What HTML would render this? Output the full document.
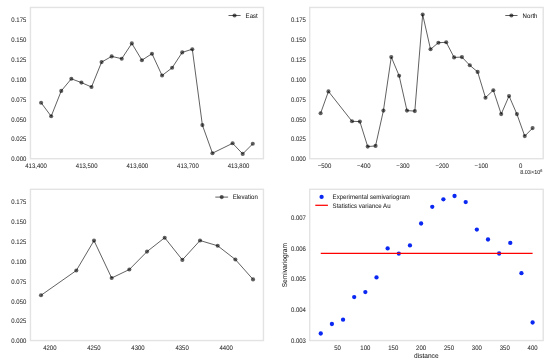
<!DOCTYPE html>
<html><head><meta charset="utf-8"><style>
html,body{margin:0;padding:0;background:#fff;}
svg{display:block;}
text{font-family:"Liberation Sans",Arial,sans-serif;fill:#262626;stroke:#262626;stroke-width:0.5;text-rendering:geometricPrecision;}
</style></head><body>
<svg width="550" height="364" viewBox="0 0 550 364">
<rect width="550" height="364" fill="#fff"/>
<rect x="30.45" y="7.45" width="233.00" height="151.25" fill="none" stroke="#e3e3e3" stroke-width="1.4"/>
<rect x="309.7" y="7.45" width="233.50" height="151.25" fill="none" stroke="#e3e3e3" stroke-width="1.4"/>
<rect x="30.45" y="189.3" width="233.00" height="151.25" fill="none" stroke="#e3e3e3" stroke-width="1.4"/>
<rect x="309.7" y="189.3" width="233.50" height="151.25" fill="none" stroke="#e3e3e3" stroke-width="1.4"/>
<text transform="translate(26.30,161.00) scale(0.1,0.1100)" font-size="60.0" text-anchor="end">0.000</text>
<text transform="translate(26.30,141.00) scale(0.1,0.1100)" font-size="60.0" text-anchor="end">0.025</text>
<text transform="translate(26.30,122.00) scale(0.1,0.1100)" font-size="60.0" text-anchor="end">0.050</text>
<text transform="translate(26.30,102.00) scale(0.1,0.1100)" font-size="60.0" text-anchor="end">0.075</text>
<text transform="translate(26.30,82.00) scale(0.1,0.1100)" font-size="60.0" text-anchor="end">0.100</text>
<text transform="translate(26.30,62.00) scale(0.1,0.1100)" font-size="60.0" text-anchor="end">0.125</text>
<text transform="translate(26.30,42.00) scale(0.1,0.1100)" font-size="60.0" text-anchor="end">0.150</text>
<text transform="translate(26.30,22.00) scale(0.1,0.1100)" font-size="60.0" text-anchor="end">0.175</text>
<text transform="translate(305.90,161.00) scale(0.1,0.1100)" font-size="60.0" text-anchor="end">0.000</text>
<text transform="translate(305.90,141.00) scale(0.1,0.1100)" font-size="60.0" text-anchor="end">0.025</text>
<text transform="translate(305.90,122.00) scale(0.1,0.1100)" font-size="60.0" text-anchor="end">0.050</text>
<text transform="translate(305.90,102.00) scale(0.1,0.1100)" font-size="60.0" text-anchor="end">0.075</text>
<text transform="translate(305.90,82.00) scale(0.1,0.1100)" font-size="60.0" text-anchor="end">0.100</text>
<text transform="translate(305.90,62.00) scale(0.1,0.1100)" font-size="60.0" text-anchor="end">0.125</text>
<text transform="translate(305.90,42.00) scale(0.1,0.1100)" font-size="60.0" text-anchor="end">0.150</text>
<text transform="translate(305.90,22.00) scale(0.1,0.1100)" font-size="60.0" text-anchor="end">0.175</text>
<text transform="translate(26.30,343.00) scale(0.1,0.1100)" font-size="60.0" text-anchor="end">0.000</text>
<text transform="translate(26.30,323.00) scale(0.1,0.1100)" font-size="60.0" text-anchor="end">0.025</text>
<text transform="translate(26.30,304.00) scale(0.1,0.1100)" font-size="60.0" text-anchor="end">0.050</text>
<text transform="translate(26.30,284.00) scale(0.1,0.1100)" font-size="60.0" text-anchor="end">0.075</text>
<text transform="translate(26.30,264.00) scale(0.1,0.1100)" font-size="60.0" text-anchor="end">0.100</text>
<text transform="translate(26.30,244.00) scale(0.1,0.1100)" font-size="60.0" text-anchor="end">0.125</text>
<text transform="translate(26.30,224.00) scale(0.1,0.1100)" font-size="60.0" text-anchor="end">0.150</text>
<text transform="translate(26.30,204.00) scale(0.1,0.1100)" font-size="60.0" text-anchor="end">0.175</text>
<text transform="translate(305.90,343.00) scale(0.1,0.1100)" font-size="60.0" text-anchor="end">0.003</text>
<text transform="translate(305.90,312.00) scale(0.1,0.1100)" font-size="60.0" text-anchor="end">0.004</text>
<text transform="translate(305.90,281.00) scale(0.1,0.1100)" font-size="60.0" text-anchor="end">0.005</text>
<text transform="translate(305.90,251.00) scale(0.1,0.1100)" font-size="60.0" text-anchor="end">0.006</text>
<text transform="translate(305.90,220.00) scale(0.1,0.1100)" font-size="60.0" text-anchor="end">0.007</text>
<text transform="translate(36.10,167.70) scale(0.1,0.1100)" font-size="60.0" text-anchor="middle">413,400</text>
<text transform="translate(86.70,167.70) scale(0.1,0.1100)" font-size="60.0" text-anchor="middle">413,500</text>
<text transform="translate(137.30,167.70) scale(0.1,0.1100)" font-size="60.0" text-anchor="middle">413,600</text>
<text transform="translate(187.90,167.70) scale(0.1,0.1100)" font-size="60.0" text-anchor="middle">413,700</text>
<text transform="translate(238.50,167.70) scale(0.1,0.1100)" font-size="60.0" text-anchor="middle">413,800</text>
<text transform="translate(324.50,167.70) scale(0.1,0.1100)" font-size="60.0" text-anchor="middle">−500</text>
<text transform="translate(363.72,167.70) scale(0.1,0.1100)" font-size="60.0" text-anchor="middle">−400</text>
<text transform="translate(402.94,167.70) scale(0.1,0.1100)" font-size="60.0" text-anchor="middle">−300</text>
<text transform="translate(442.16,167.70) scale(0.1,0.1100)" font-size="60.0" text-anchor="middle">−200</text>
<text transform="translate(481.38,167.70) scale(0.1,0.1100)" font-size="60.0" text-anchor="middle">−100</text>
<text transform="translate(520.60,167.70) scale(0.1,0.1100)" font-size="60.0" text-anchor="middle">0</text>
<text transform="translate(542.40,174.40) scale(0.1,0.1060)" font-size="55.0" text-anchor="end">8.03×10<tspan font-size="38.5" dy="-22">6</tspan></text>
<text transform="translate(49.80,349.60) scale(0.1,0.1100)" font-size="60.0" text-anchor="middle">4200</text>
<text transform="translate(93.90,349.60) scale(0.1,0.1100)" font-size="60.0" text-anchor="middle">4250</text>
<text transform="translate(138.00,349.60) scale(0.1,0.1100)" font-size="60.0" text-anchor="middle">4300</text>
<text transform="translate(182.10,349.60) scale(0.1,0.1100)" font-size="60.0" text-anchor="middle">4350</text>
<text transform="translate(226.20,349.60) scale(0.1,0.1100)" font-size="60.0" text-anchor="middle">4400</text>
<text transform="translate(337.48,349.60) scale(0.1,0.1100)" font-size="60.0" text-anchor="middle">50</text>
<text transform="translate(365.35,349.60) scale(0.1,0.1100)" font-size="60.0" text-anchor="middle">100</text>
<text transform="translate(393.23,349.60) scale(0.1,0.1100)" font-size="60.0" text-anchor="middle">150</text>
<text transform="translate(421.10,349.60) scale(0.1,0.1100)" font-size="60.0" text-anchor="middle">200</text>
<text transform="translate(448.98,349.60) scale(0.1,0.1100)" font-size="60.0" text-anchor="middle">250</text>
<text transform="translate(476.85,349.60) scale(0.1,0.1100)" font-size="60.0" text-anchor="middle">300</text>
<text transform="translate(504.73,349.60) scale(0.1,0.1100)" font-size="60.0" text-anchor="middle">350</text>
<text transform="translate(532.60,349.60) scale(0.1,0.1100)" font-size="60.0" text-anchor="middle">400</text>
<text transform="translate(426.30,357.90) scale(0.1,0.1060)" font-size="66.0" text-anchor="middle">distance</text>
<text transform="translate(286.90,265.15) rotate(-90) scale(0.1,0.1060)" font-size="66.0" text-anchor="middle">Semivariogram</text>
<path d="M41.10,102.70 L51.18,116.30 L61.26,90.90 L71.34,78.80 L81.42,82.60 L91.50,87.00 L101.58,62.10 L111.66,56.40 L121.74,58.70 L131.82,43.40 L141.90,60.20 L151.98,53.70 L162.06,75.50 L172.14,67.80 L182.22,52.40 L192.30,49.20 L202.38,125.10 L212.46,153.20 L232.62,143.30 L242.70,153.90 L252.78,143.80" fill="none" stroke="#000" stroke-opacity="0.62" stroke-width="1.0" stroke-linejoin="round"/>
<circle cx="41.10" cy="102.70" r="2.05" fill="#000" fill-opacity="0.62"/>
<circle cx="51.18" cy="116.30" r="2.05" fill="#000" fill-opacity="0.62"/>
<circle cx="61.26" cy="90.90" r="2.05" fill="#000" fill-opacity="0.62"/>
<circle cx="71.34" cy="78.80" r="2.05" fill="#000" fill-opacity="0.62"/>
<circle cx="81.42" cy="82.60" r="2.05" fill="#000" fill-opacity="0.62"/>
<circle cx="91.50" cy="87.00" r="2.05" fill="#000" fill-opacity="0.62"/>
<circle cx="101.58" cy="62.10" r="2.05" fill="#000" fill-opacity="0.62"/>
<circle cx="111.66" cy="56.40" r="2.05" fill="#000" fill-opacity="0.62"/>
<circle cx="121.74" cy="58.70" r="2.05" fill="#000" fill-opacity="0.62"/>
<circle cx="131.82" cy="43.40" r="2.05" fill="#000" fill-opacity="0.62"/>
<circle cx="141.90" cy="60.20" r="2.05" fill="#000" fill-opacity="0.62"/>
<circle cx="151.98" cy="53.70" r="2.05" fill="#000" fill-opacity="0.62"/>
<circle cx="162.06" cy="75.50" r="2.05" fill="#000" fill-opacity="0.62"/>
<circle cx="172.14" cy="67.80" r="2.05" fill="#000" fill-opacity="0.62"/>
<circle cx="182.22" cy="52.40" r="2.05" fill="#000" fill-opacity="0.62"/>
<circle cx="192.30" cy="49.20" r="2.05" fill="#000" fill-opacity="0.62"/>
<circle cx="202.38" cy="125.10" r="2.05" fill="#000" fill-opacity="0.62"/>
<circle cx="212.46" cy="153.20" r="2.05" fill="#000" fill-opacity="0.62"/>
<circle cx="232.62" cy="143.30" r="2.05" fill="#000" fill-opacity="0.62"/>
<circle cx="242.70" cy="153.90" r="2.05" fill="#000" fill-opacity="0.62"/>
<circle cx="252.78" cy="143.80" r="2.05" fill="#000" fill-opacity="0.62"/>
<path d="M320.60,113.30 L328.45,91.40 L352.01,121.30 L359.86,121.60 L367.71,146.60 L375.56,145.90 L383.42,110.60 L391.27,57.00 L399.12,75.70 L406.97,110.60 L414.82,111.10 L422.68,14.50 L430.53,49.30 L438.38,42.70 L446.23,42.30 L454.08,57.40 L461.94,57.10 L469.79,65.30 L477.64,71.90 L485.49,97.70 L493.34,90.20 L501.20,114.10 L509.05,96.00 L516.90,114.10 L524.75,136.10 L532.60,128.10" fill="none" stroke="#000" stroke-opacity="0.62" stroke-width="1.0" stroke-linejoin="round"/>
<circle cx="320.60" cy="113.30" r="2.05" fill="#000" fill-opacity="0.62"/>
<circle cx="328.45" cy="91.40" r="2.05" fill="#000" fill-opacity="0.62"/>
<circle cx="352.01" cy="121.30" r="2.05" fill="#000" fill-opacity="0.62"/>
<circle cx="359.86" cy="121.60" r="2.05" fill="#000" fill-opacity="0.62"/>
<circle cx="367.71" cy="146.60" r="2.05" fill="#000" fill-opacity="0.62"/>
<circle cx="375.56" cy="145.90" r="2.05" fill="#000" fill-opacity="0.62"/>
<circle cx="383.42" cy="110.60" r="2.05" fill="#000" fill-opacity="0.62"/>
<circle cx="391.27" cy="57.00" r="2.05" fill="#000" fill-opacity="0.62"/>
<circle cx="399.12" cy="75.70" r="2.05" fill="#000" fill-opacity="0.62"/>
<circle cx="406.97" cy="110.60" r="2.05" fill="#000" fill-opacity="0.62"/>
<circle cx="414.82" cy="111.10" r="2.05" fill="#000" fill-opacity="0.62"/>
<circle cx="422.68" cy="14.50" r="2.05" fill="#000" fill-opacity="0.62"/>
<circle cx="430.53" cy="49.30" r="2.05" fill="#000" fill-opacity="0.62"/>
<circle cx="438.38" cy="42.70" r="2.05" fill="#000" fill-opacity="0.62"/>
<circle cx="446.23" cy="42.30" r="2.05" fill="#000" fill-opacity="0.62"/>
<circle cx="454.08" cy="57.40" r="2.05" fill="#000" fill-opacity="0.62"/>
<circle cx="461.94" cy="57.10" r="2.05" fill="#000" fill-opacity="0.62"/>
<circle cx="469.79" cy="65.30" r="2.05" fill="#000" fill-opacity="0.62"/>
<circle cx="477.64" cy="71.90" r="2.05" fill="#000" fill-opacity="0.62"/>
<circle cx="485.49" cy="97.70" r="2.05" fill="#000" fill-opacity="0.62"/>
<circle cx="493.34" cy="90.20" r="2.05" fill="#000" fill-opacity="0.62"/>
<circle cx="501.20" cy="114.10" r="2.05" fill="#000" fill-opacity="0.62"/>
<circle cx="509.05" cy="96.00" r="2.05" fill="#000" fill-opacity="0.62"/>
<circle cx="516.90" cy="114.10" r="2.05" fill="#000" fill-opacity="0.62"/>
<circle cx="524.75" cy="136.10" r="2.05" fill="#000" fill-opacity="0.62"/>
<circle cx="532.60" cy="128.10" r="2.05" fill="#000" fill-opacity="0.62"/>
<path d="M41.00,295.30 L76.34,270.50 L94.01,240.60 L111.68,278.00 L129.35,269.50 L147.02,251.60 L164.69,237.70 L182.36,259.90 L200.03,240.50 L217.70,245.80 L235.37,259.50 L253.04,279.40" fill="none" stroke="#000" stroke-opacity="0.62" stroke-width="1.0" stroke-linejoin="round"/>
<circle cx="41.00" cy="295.30" r="2.05" fill="#000" fill-opacity="0.62"/>
<circle cx="76.34" cy="270.50" r="2.05" fill="#000" fill-opacity="0.62"/>
<circle cx="94.01" cy="240.60" r="2.05" fill="#000" fill-opacity="0.62"/>
<circle cx="111.68" cy="278.00" r="2.05" fill="#000" fill-opacity="0.62"/>
<circle cx="129.35" cy="269.50" r="2.05" fill="#000" fill-opacity="0.62"/>
<circle cx="147.02" cy="251.60" r="2.05" fill="#000" fill-opacity="0.62"/>
<circle cx="164.69" cy="237.70" r="2.05" fill="#000" fill-opacity="0.62"/>
<circle cx="182.36" cy="259.90" r="2.05" fill="#000" fill-opacity="0.62"/>
<circle cx="200.03" cy="240.50" r="2.05" fill="#000" fill-opacity="0.62"/>
<circle cx="217.70" cy="245.80" r="2.05" fill="#000" fill-opacity="0.62"/>
<circle cx="235.37" cy="259.50" r="2.05" fill="#000" fill-opacity="0.62"/>
<circle cx="253.04" cy="279.40" r="2.05" fill="#000" fill-opacity="0.62"/>
<circle cx="320.75" cy="333.50" r="2.15" fill="#0a28f2"/>
<circle cx="331.90" cy="324.00" r="2.15" fill="#0a28f2"/>
<circle cx="343.05" cy="319.70" r="2.15" fill="#0a28f2"/>
<circle cx="354.20" cy="297.10" r="2.15" fill="#0a28f2"/>
<circle cx="365.35" cy="292.10" r="2.15" fill="#0a28f2"/>
<circle cx="376.50" cy="277.40" r="2.15" fill="#0a28f2"/>
<circle cx="387.65" cy="248.40" r="2.15" fill="#0a28f2"/>
<circle cx="398.80" cy="253.60" r="2.15" fill="#0a28f2"/>
<circle cx="409.95" cy="245.40" r="2.15" fill="#0a28f2"/>
<circle cx="421.10" cy="223.50" r="2.15" fill="#0a28f2"/>
<circle cx="432.25" cy="206.80" r="2.15" fill="#0a28f2"/>
<circle cx="443.40" cy="199.30" r="2.15" fill="#0a28f2"/>
<circle cx="454.55" cy="196.00" r="2.15" fill="#0a28f2"/>
<circle cx="465.70" cy="202.10" r="2.15" fill="#0a28f2"/>
<circle cx="476.85" cy="229.60" r="2.15" fill="#0a28f2"/>
<circle cx="488.00" cy="239.50" r="2.15" fill="#0a28f2"/>
<circle cx="499.15" cy="253.50" r="2.15" fill="#0a28f2"/>
<circle cx="510.30" cy="242.90" r="2.15" fill="#0a28f2"/>
<circle cx="521.45" cy="273.20" r="2.15" fill="#0a28f2"/>
<circle cx="532.60" cy="322.50" r="2.15" fill="#0a28f2"/>
<line x1="320.75" y1="253.35" x2="532.60" y2="253.35" stroke="#ff0000" stroke-width="1.25"/>
<line x1="228.5" y1="15.5" x2="240.6" y2="15.5" stroke="#000" stroke-opacity="0.62" stroke-width="1.0"/>
<circle cx="234.55" cy="15.5" r="2.05" fill="#000" fill-opacity="0.62"/>
<text transform="translate(245.60,17.62) scale(0.1,0.1060)" font-size="61.0" text-anchor="start">East</text>
<line x1="505.3" y1="15.5" x2="517.5" y2="15.5" stroke="#000" stroke-opacity="0.62" stroke-width="1.0"/>
<circle cx="511.40" cy="15.5" r="2.05" fill="#000" fill-opacity="0.62"/>
<text transform="translate(522.60,17.62) scale(0.1,0.1060)" font-size="61.0" text-anchor="start">North</text>
<line x1="215.3" y1="197.1" x2="228.1" y2="197.1" stroke="#000" stroke-opacity="0.62" stroke-width="1.0"/>
<circle cx="221.70" cy="197.1" r="2.05" fill="#000" fill-opacity="0.62"/>
<text transform="translate(232.70,199.22) scale(0.1,0.1060)" font-size="61.0" text-anchor="start">Elevation</text>
<circle cx="321.6" cy="196.9" r="2.15" fill="#0a28f2"/>
<line x1="315.3" y1="205.3" x2="327.9" y2="205.3" stroke="#ff0000" stroke-width="1.25"/>
<text transform="translate(332.60,198.70) scale(0.1,0.1060)" font-size="61.0" text-anchor="start">Experimental semivariogram</text>
<text transform="translate(332.60,207.60) scale(0.1,0.1060)" font-size="61.0" text-anchor="start">Statistics variance Au</text>
</svg>
</body></html>
